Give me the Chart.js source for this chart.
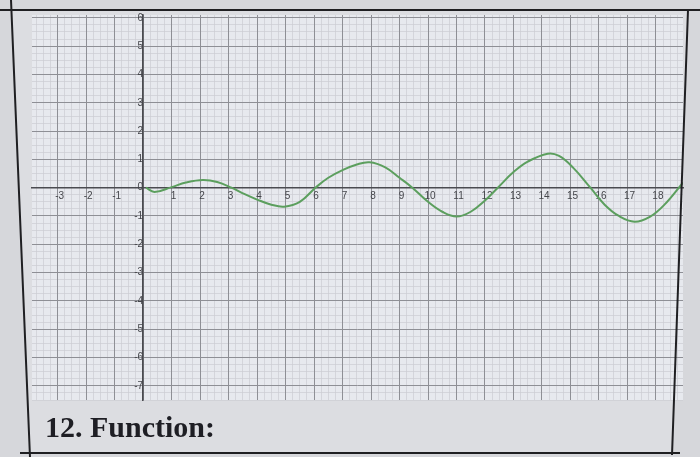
<!DOCTYPE html>
<html>
<head>
<meta charset="utf-8">
<script src="https://cdn.jsdelivr.net/npm/chart.js@4.4.1/dist/chart.umd.min.js"></script>
<style>
  html, body { margin: 0; padding: 0; background: #d6d7db; }
  #wrap { position: relative; width: 700px; height: 457px; }
  #graph { position: absolute; left: 0; top: 0; }
  #label {
    position: absolute; left: 45px; top: 412px;
    font: bold 30px "Liberation Serif", "DejaVu Serif", serif;
    line-height: 30px; color: #1e1e24; white-space: nowrap;
  }
</style>
</head>
<body>
<div id="wrap">
  <canvas id="graph" width="700" height="457"></canvas>
  <div id="label">12. Function:</div>
</div>
<script>
// points
const curveX = [0.1, 0.4, 1, 1.5, 2.1, 2.6, 3.1, 3.5, 4, 4.5, 4.95, 5.5, 6.05, 6.5, 7, 7.5, 7.95, 8.5, 9, 9.45, 10, 10.5, 11, 11.5, 12, 12.45, 13, 13.5, 14.2, 14.6, 15.1, 15.7, 16.2, 16.7, 17.25, 17.8, 18.3, 18.95];
const curveY = [0, -0.15, 0.02, 0.18, 0.27, 0.2, 0, -0.2, -0.42, -0.6, -0.67, -0.5, 0, 0.35, 0.62, 0.82, 0.9, 0.72, 0.35, 0, -0.5, -0.85, -1.02, -0.85, -0.45, 0, 0.55, 0.92, 1.2, 1.12, 0.7, 0, -0.6, -1.0, -1.2, -1.02, -0.6, 0.18];

const xMin = -3.9, xMax = 18.95;
const yMin = -7.5, yMax = 6.1;

const plotBg = "#e7e9ee";
const majorLine = "#8e8f95";
const minorLine = "#cbcdd3";
const tickColor = "#45464b";

const paper = {
  id: "paper",
  beforeDraw(chart) {
    const c = chart.ctx, a = chart.chartArea;
    c.save();
    c.fillStyle = "#dcdde1";
    c.beginPath();
    c.moveTo(11, 10); c.lineTo(688, 10); c.lineTo(672, 453); c.lineTo(29, 453);
    c.closePath();
    c.fill();
    c.fillStyle = plotBg;
    c.fillRect(a.left, a.top, a.right - a.left, a.bottom - a.top);
    c.restore();
  },
  afterDraw(chart) {
    const c = chart.ctx;
    c.save();
    c.strokeStyle = "#1f1f22";
    c.lineWidth = 2;
    c.beginPath();
    c.moveTo(0, 10); c.lineTo(700, 10);
    c.moveTo(11, 0); c.lineTo(30, 457);
    c.moveTo(688, 10); c.lineTo(672, 455);
    c.moveTo(20, 453); c.lineTo(680, 453);
    c.stroke();
    c.restore();
  }
};

new Chart(document.getElementById("graph"), {
  type: "line",
  data: {
    datasets: [{
      data: curveX.map((x, i) => ({ x: x, y: curveY[i] })),
      borderColor: "#5c9f5e",
      borderWidth: 2,
      pointRadius: 0,
      tension: 0.4,
      fill: false
    }]
  },
  options: {
    responsive: false,
    animation: false,
    layout: { padding: { left: 32, right: 17, top: 15, bottom: 57 } },
    plugins: { legend: { display: false }, tooltip: { enabled: false } },
    scales: {
      xm: {
        type: "linear", axis: "x", min: xMin, max: xMax,
        position: { y: 0 },
        ticks: { display: false, stepSize: 0.25, includeBounds: false },
        grid: { color: minorLine, lineWidth: 0.7, drawTicks: false, z: -1 },
        border: { display: false }
      },
      ym: {
        type: "linear", axis: "y", min: yMin, max: yMax,
        position: { x: 0 },
        ticks: { display: false, stepSize: 0.25, includeBounds: false },
        grid: { color: minorLine, lineWidth: 0.7, drawTicks: false, z: -1 },
        border: { display: false }
      },
      x: {
        type: "linear", min: xMin, max: xMax,
        position: { y: 0 },
        ticks: {
          stepSize: 1, includeBounds: false, padding: 3, labelOffset: 2,
          color: tickColor, font: { family: "Liberation Sans", size: 10 },
          callback: v => v === 0 ? "" : v
        },
        grid: { color: majorLine, lineWidth: 1, drawTicks: false },
        border: { color: "#4a4b50", width: 1.6 }
      },
      y: {
        type: "linear", min: yMin, max: yMax,
        position: { x: 0 },
        ticks: {
          stepSize: 1, includeBounds: false, padding: 4,
          color: tickColor, font: { family: "Liberation Sans", size: 10 }
        },
        grid: { color: majorLine, lineWidth: 1, drawTicks: false },
        border: { color: "#4a4b50", width: 1.6 }
      }
    }
  },
  plugins: [paper]
});
</script>
</body>
</html>
